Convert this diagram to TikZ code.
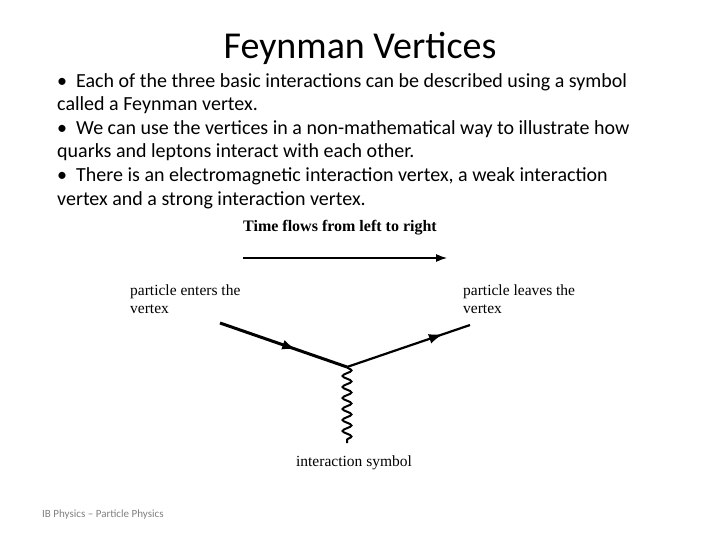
\documentclass[tikz,border=0pt]{standalone}
\usepackage{fontspec}
\setmainfont{Carlito}
\newfontfamily\tms{Liberation Serif}
\usetikzlibrary{decorations.pathmorphing,decorations.markings,arrows.meta}
\begin{document}
\begin{tikzpicture}[x=1pt,y=-1pt,
  bul/.style={anchor=west,inner sep=0,font=\fontsize{20}{22}\selectfont},
  lab/.style={anchor=north west,inner sep=0,align=left,font=\tms\fontsize{15.5}{18}\selectfont},
  arr/.style={postaction={decorate},decoration={markings,mark=at position #1 with {\arrow{Latex[length=14pt,width=10pt]}}}}]
\useasboundingbox (0,0) rectangle (720,540);
\node (title) at (360,48) {\fontsize{38}{44}\selectfont Feynman Vertices};
\node[bul] (b1) at (57,82) {\textbullet\ \ Each of the three basic interactions can be described using a symbol};
\node[bul] (b2) at (57,105) {called a Feynman vertex.};
\node[bul] (b3) at (57,129) {\textbullet\ \ We can use the vertices in a non-mathematical way to illustrate how};
\node[bul] (b4) at (57,152) {quarks and leptons interact with each other.};
\node[bul] (b5) at (57,176) {\textbullet\ \ There is an electromagnetic interaction vertex, a weak interaction};
\node[bul] (b6) at (57,200) {vertex and a strong interaction vertex.};
\node (time) at (340,228) {\tms\bfseries\fontsize{16}{19}\selectfont Time flows from left to right};
\coordinate (t1) at (243,258); \coordinate (t2) at (447,258);
\draw[-{Latex[length=11pt,width=8pt]},line width=1.2pt] (t1) -- (t2);
\node[lab] (l1) at (130,285) {particle enters the\\vertex};
\node[lab] (l2) at (463,285) {particle leaves the\\vertex};
\coordinate (in) at (220,323); \coordinate (v) at (347,367); \coordinate (out) at (470,325);
\coordinate (w) at (347,443);
\draw[line width=3pt,arr=0.6] (in) -- (v);
\draw[line width=2.2pt,arr=0.78] (v) -- (out);
\draw[line width=2pt,decorate,decoration={snake,amplitude=4.5pt,segment length=11pt}] (v) -- (w);
\node (int) at (354,463) {\tms\fontsize{15.5}{18}\selectfont interaction symbol};
\node[anchor=west,inner sep=0,text=gray] (foot) at (42,515) {\fontsize{11}{13}\selectfont IB Physics – Particle Physics};
\end{tikzpicture}
\end{document}
